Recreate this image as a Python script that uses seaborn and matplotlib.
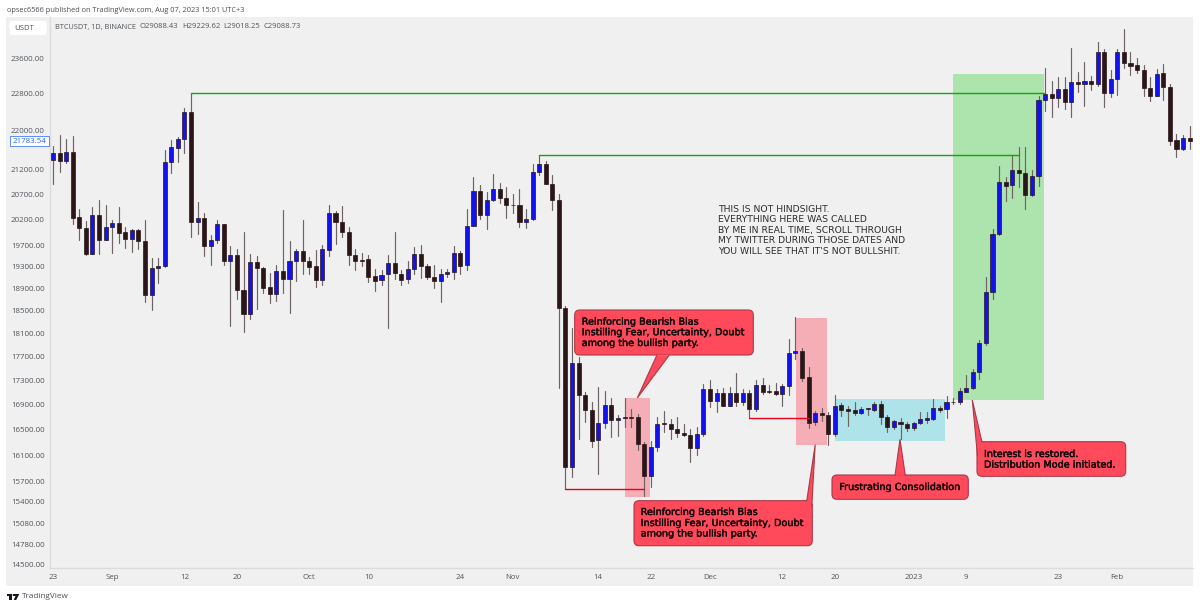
import numpy as np
import pandas as pd
import seaborn as sns
import matplotlib
matplotlib.use("Agg")
import matplotlib.pyplot as plt
import matplotlib.patheffects as pe
from matplotlib.patches import FancyBboxPatch, Polygon, Rectangle

opens = [21394,21533,21367,21561,20246,20039,19550,20286,19817,20051,
20128,19956,19823,20000,19791,18782,19284,19320,21354,21651,
21840,22407,20161,20233,19696,19804,20115,19419,19531,18878,
18454,19394,19290,18926,18805,19228,19081,19407,19595,19419,
19314,19056,19627,20338,20154,19969,19531,19431,19443,19136,
19062,19161,19370,19173,19075,19265,19544,19320,19124,19044,
19167,19204,19569,19339,20076,20772,20299,20587,20812,20633,
20496,20489,20154,20207,21144,21306,20907,20594,18550,15918,
17604,17070,16815,16332,16610,16897,16653,16702,16702,16702,
16274,15783,16222,16605,16594,16520,16457,16426,16212,16431,
17169,16972,17091,16875,17102,16956,17091,16832,17224,17130,
17130,17080,17213,17774,17809,17358,16626,16772,16740,16436,
16902,16832,16826,16772,16843,16826,16923,16707,16541,16632,
16599,16536,16615,16664,16675,16848,16832,16956,16945,17119,
17174,17442,17941,18841,19931,20955,20880,21188,21124,20679,
21076,22675,22790,22710,22914,22631,23064,23019,23079,23026,
23737,22826,23130,23737,23488,23436,23324,22930,22752,23256,
22960,21805,21631,21861]
highs = [21693,21917,21826,21896,20404,20181,20443,20581,20496,20194,
20443,20051,20026,20026,20194,19468,19468,21603,21812,21868,
22494,22812,20548,20338,19899,20194,20115,19696,19633,19962,
19544,19506,19308,19185,19333,20391,19797,19646,20194,19480,
19620,19722,20483,20364,20470,20064,19646,19557,19519,19259,
19247,19519,19962,19247,19419,19684,19709,19357,19345,19259,
19259,19696,19608,20417,21036,20880,20753,21104,20934,20853,
20698,20799,20411,21313,21489,21367,21083,20698,18580,18206,
17693,17113,16951,17191,17135,17021,16745,17010,16832,16756,
16311,16316,16713,16810,16680,16702,16594,16520,16541,17237,
17315,17169,17180,17202,17425,17169,17147,17303,17348,17224,
17258,17247,18005,18389,17855,17526,16799,16853,16778,17064,
16929,16875,16951,16864,16853,16951,16972,16734,16659,16685,
16621,16632,16778,16778,16994,16875,17048,17010,17174,17397,
17492,17993,19124,20013,21272,21056,21491,21665,21665,21195,
22754,23376,23086,23182,23175,23820,23287,23503,23198,23958,
23798,23332,23813,24262,23730,23593,23443,23168,23354,23466,
23018,21945,21910,22098]
lows = [20900,21151,21327,20115,19810,19531,19544,19544,19810,19569,
19760,19658,19588,19633,18663,18520,19013,19308,21124,21361,
21547,19861,19925,19506,19333,19760,19339,18240,18722,18131,
18365,18532,18817,18639,18686,18817,18472,19050,19161,19161,
18927,18964,19506,19734,19861,19333,19247,19320,19025,18865,
18976,18200,19075,18976,19001,19161,19099,19075,18914,18669,
19124,19087,19161,19247,20076,20207,20013,20561,20522,20240,
20338,20051,20039,20194,21090,20900,20397,17174,15583,15761,
16363,16626,16227,15817,16531,16384,16410,16546,16552,16185,
15482,15624,16175,16468,16353,16384,16405,15999,16101,16395,
16864,16789,16875,16875,16886,16907,16685,16794,17080,17091,
17058,16875,17064,17671,17291,16525,16583,16648,16264,16395,
16724,16567,16734,16756,16734,16810,16594,16468,16510,16353,
16489,16499,16594,16615,16659,16778,16685,16913,16918,17113,
17157,17325,17907,18722,19905,20561,20627,20853,20417,20666,
20866,22422,22300,22509,22465,22306,22841,22537,22877,22982,
22509,22724,22768,23384,23220,23257,22752,22638,22746,22666,
21700,21463,21610,21618]
closes = [21533,21367,21561,20240,20039,19550,20286,19817,20051,20128,
19950,19823,20000,19791,18782,19290,19327,21361,21658,21840,
22407,20161,20233,19696,19810,20115,19413,19531,18878,18454,
19394,19284,18914,18805,19228,19081,19407,19595,19413,19308,
19056,19633,20338,20154,19969,19525,19419,19419,19124,19050,
19155,19370,19185,19062,19259,19544,19320,19111,19044,19167,
19204,19569,19320,20076,20772,20299,20587,20812,20633,20489,
20483,20154,20207,21144,21306,20907,20594,18550,15918,17604,
17070,16815,16321,16610,16897,16653,16685,16685,16691,16269,
15783,16222,16599,16588,16520,16457,16426,16212,16436,17157,
16972,17091,16875,17102,16956,17091,16832,17224,17118,17118,
17080,17213,17774,17809,17347,16615,16772,16740,16436,16886,
16826,16810,16767,16837,16832,16918,16707,16541,16637,16599,
16536,16615,16669,16685,16848,16826,16956,16945,17124,17174,
17442,17941,18841,19931,20955,20866,21181,21124,20679,21076,
22675,22790,22710,22914,22631,23064,23026,23079,23026,23737,
22826,23130,23737,23488,23428,23324,22930,22752,23234,22960,
21798,21631,21861,21784]

price_ticks = [14500,14780,15080,15400,15700,16100,16500,16900,17300,17700,18100,
               18500,18900,19300,19700,20200,20700,21200,22000,22800,23600]
day_ticks = [0,9,20,28,39,48,62,70,83,91,100,111,119,131,139,153,162]
day_labels = ["23","Sep","12","20","Oct","10","24","Nov","14","22","Dec","12","20","2023","9","23","Feb"]
high_levels = [(21,151),(74,147)]
low_levels = [(78,90),(106,115)]
last_price = 21783.54

W, H = 1200, 609
sns.set_theme(style="white")
plt.rcParams["font.family"] = ["Open Sans", "DejaVu Sans"]
BG = "#f0f0f0"; DARK = "#2a1517"; BLUE = "#1212ee"; WICK = "#6f6464"; GRAY = "#50555b"
fig = plt.figure(figsize=(W/100, H/100), dpi=100, facecolor="white")

back = fig.add_axes([0,0,1,1], zorder=0); back.set_xlim(0,W); back.set_ylim(H,0); back.axis("off")
back.add_patch(Rectangle((6,17),1187,569,fc=BG,ec="none"))

L,R,T,B = 49.5,1193,17,567.7
ax = fig.add_axes([L/W,1-B/H,(R-L)/W,(B-T)/H], zorder=1)
ax.patch.set_alpha(0)
ax.set_yscale("log")

days = np.arange(len(opens))
frame = pd.DataFrame({"day":days,"open":opens,"high":highs,"low":lows,"close":closes})
wicks = frame.melt(id_vars="day", value_vars=["high","low"], value_name="price")
sns.lineplot(data=wicks, x="day", y="price", units="day", estimator=None, color=WICK,
             linewidth=0.85, legend=False, ax=ax, zorder=3)
top = frame[["open","close"]].max(axis=1); bot = frame[["open","close"]].min(axis=1)
cols = [BLUE if c>o else DARK for o,c in zip(opens,closes)]
ax.bar(days, top-bot, bottom=bot, width=0.62, color=cols, edgecolor=DARK, linewidth=0.5, zorder=4)

for (a,b),col,src in [(high_levels[0],"#0ca80c",highs),(high_levels[1],"#0ca80c",highs),
                      (low_levels[0],"#e8001c",lows),(low_levels[1],"#e8001c",lows)]:
    lv = pd.DataFrame({"day":[a,b],"price":[src[a],src[a]]})
    sns.lineplot(data=lv, x="day", y="price", color=col, linewidth=1.0, legend=False, ax=ax, zorder=5)

ax.set_xlim((L-53)/6.57, (R-53)/6.57)
k = 1039.0
ax.set_ylim(23600*np.exp(-(B-58)/k), 23600*np.exp((58-T)/k))
ax.set_yticks(price_ticks); ax.set_yticklabels([f"{p:.2f}" for p in price_ticks])
ax.minorticks_off()
ax.set_xticks(day_ticks); ax.set_xticklabels(day_labels)
ax.set_xlabel(""); ax.set_ylabel("")
ax.tick_params(axis="y", length=0, pad=3.4, labelsize=5.7, colors=GRAY)
ax.tick_params(axis="x", length=0, pad=4.2, labelsize=5.7, colors=GRAY)
for s in ["top","right"]: ax.spines[s].set_visible(False)
for s in ["left","bottom"]:
    ax.spines[s].set_color("#dcdcdc"); ax.spines[s].set_linewidth(1.0)

# shaded zones, behind the candles
for x0,y0,x1,y1,c in [(953.3,74,1044.3,400,"#ade3ad"),(835,399.3,945.3,440.7,"#aee3ea"),
                      (625,397.7,650,497,"#f5aeb6"),(796,317.7,827.3,444.7,"#f5aeb6")]:
    ax.add_patch(Rectangle((x0,y0),x1-x0,y1-y0,fc=c,ec="none",transform=back.transData,zorder=1,clip_on=False))

top_ax = fig.add_axes([0,0,1,1], zorder=2); top_ax.set_xlim(0,W); top_ax.set_ylim(H,0); top_ax.axis("off")
top_ax.patch.set_alpha(0)
FILL="#ff4a5c"; EDGE="#a83a48"
stroke=[pe.withStroke(linewidth=0.3,foreground="#14080a")]
def callout(x0,y0,x1,y1,tail,lines,tx,tys):
    top_ax.add_patch(FancyBboxPatch((x0,y0),x1-x0,y1-y0,boxstyle="round,pad=0,rounding_size=5",
                                    fc=FILL,ec=EDGE,lw=0.8,zorder=5))
    top_ax.add_patch(Polygon(tail,closed=True,fc=FILL,ec="none",zorder=6))
    xs,ys=zip(*tail)
    top_ax.plot(xs,ys,color=EDGE,lw=0.8,zorder=7,solid_joinstyle="miter")
    for s,ty in zip(lines,tys):
        top_ax.text(tx,ty,s,fontsize=6.95,family="DejaVu Sans",color="#14080a",va="center",ha="left",zorder=8,
                    path_effects=stroke)
B1=["Reinforcing Bearish Bias","Instilling Fear, Uncertainty, Doubt","among the bullish party."]
callout(574.7,310,753.3,355,[(656.7,355.5),(637.3,398),(669,355.5)],B1,581.7,[321.7,332.2,343])
callout(634,500.7,812.3,545.7,[(806.7,501.2),(815.2,444.7),(811.8,506)],B1,640.7,[512,523,533.5])
callout(832,475,968.3,499.3,[(895,475.5),(900,439.3),(905.3,475.5)],["Frustrating Consolidation"],839.3,[487])
callout(977,441.7,1125.7,476.3,[(977.5,456),(972.3,400),(982,442.2)],
        ["Interest is restored.","Distribution Mode initiated."],984,[454,464.6])

for s,ty in zip(["THIS IS NOT HINDSIGHT.","EVERYTHING HERE WAS CALLED","BY ME IN REAL TIME, SCROLL THROUGH",
                 "MY TWITTER DURING THOSE DATES AND","YOU WILL SEE THAT IT'S NOT BULLSHIT."],[209.7,220,230.3,240.5,251]):
    top_ax.text(718.3,ty,s,fontsize=6.7,family="DejaVu Sans",color="#2e2e2e",va="center",ha="left")

top_ax.text(7,10,"opsec6566 published on TradingView.com, Aug 07, 2023 15:01 UTC+3",fontsize=5.35,color="#4a4f55",va="center")
top_ax.add_patch(FancyBboxPatch((9.5,21),37,14,boxstyle="round,pad=0,rounding_size=2",fc="white",ec="none"))
top_ax.text(24,28.3,"USDT",fontsize=5.6,color=GRAY,va="center",ha="center")
top_ax.text(55,27,"BTCUSDT, 1D, BINANCE",fontsize=5.3,color=GRAY,va="center")
top_ax.text(140,27,"O29088.43",fontsize=5.5,color=GRAY,va="center")
top_ax.text(182,27,"H29229.62",fontsize=5.5,color=GRAY,va="center")
top_ax.text(223,27,"L29018.25",fontsize=5.5,color=GRAY,va="center")
top_ax.text(264,27,"C29088.73",fontsize=5.5,color=GRAY,va="center")
y_tag = 58+k*np.log(23600/last_price)
top_ax.add_patch(Rectangle((10,y_tag-5),39,10,fc="white",ec="#5b8cff",lw=0.7))
top_ax.text(29.5,y_tag+0.2,f"{last_price:.2f}",fontsize=5.7,color="#2962ff",va="center",ha="center")

# TradingView wordmark
top_ax.add_patch(Polygon([(6.7,594),(12,594),(12,600),(9.2,600),(9.2,596),(6.7,596)],fc="#131722",ec="none"))
top_ax.add_patch(Polygon([(12.8,594),(19.3,594),(16.2,600),(13.8,600),(15.5,596),(12.8,596)],fc="#131722",ec="none"))
top_ax.text(22,597,"TradingView",fontsize=5.9,color="#4a4f55",va="center")

fig.savefig("out.png", dpi=100, facecolor="white")
